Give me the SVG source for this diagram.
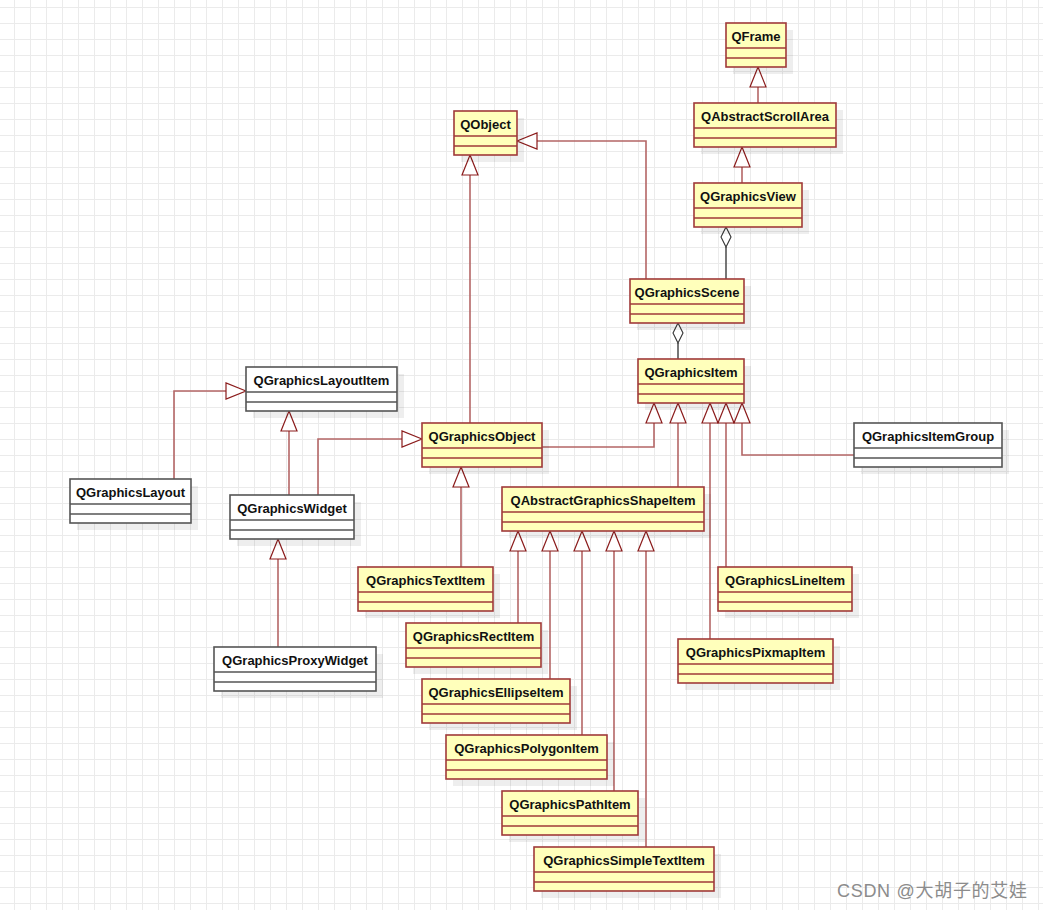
<svg xmlns="http://www.w3.org/2000/svg" width="1043" height="910" viewBox="0 0 1043 910">
<defs>
<pattern id="grid" width="16" height="16" patternUnits="userSpaceOnUse" x="14" y="7">
<path d="M0 0.5H16M0.5 0V16" stroke="#ebebeb" stroke-width="1" fill="none"/>
</pattern>
<style>
.cls rect.sh{fill:#000;fill-opacity:0.065;stroke:none}
.cls rect.bx{fill:#ffffbb;stroke:#a03a3a;stroke-width:1.6}
.cls path.sep{stroke:#a03a3a;stroke-width:1.6;fill:none}
.cls.w rect.bx{fill:#ffffff;stroke:#555555}
.cls.w path.sep{stroke:#555555}
.cls text{font-family:"Liberation Sans",Arial,sans-serif;font-size:13px;font-weight:bold;fill:#111;text-anchor:middle}
.gen{stroke:#b46666;stroke-width:1.6;fill:none}
.tri{fill:#fff;stroke:#8b1c1c;stroke-width:1.2}
.agg{stroke:#555;stroke-width:1.6;fill:none}
.dia{fill:#fff;stroke:#333;stroke-width:1.1}
</style>
</defs>
<rect width="1043" height="910" fill="#ffffff"/>
<rect width="1043" height="910" fill="url(#grid)"/>

<g id="connectors">
<!-- QAbstractScrollArea -> QFrame -->
<path class="gen" d="M758 103V87"/>
<polygon class="tri" points="758,67 766,87 750,87"/>
<!-- QGraphicsView -> QAbstractScrollArea -->
<path class="gen" d="M742 183V167"/>
<polygon class="tri" points="742,147 750,167 734,167"/>
<!-- View <>- Scene -->
<path class="agg" d="M726 247V279"/>
<polygon class="dia" points="726,227 731,237 726,247 721,237"/>
<!-- Scene -> QObject -->
<path class="gen" d="M646 279V141H537"/>
<polygon class="tri" points="517,141 537,133 537,149"/>
<!-- Scene <>- Item -->
<path class="agg" d="M678 343V359"/>
<polygon class="dia" points="678,323 683,333 678,343 673,333"/>
<!-- GraphicsObject -> QObject -->
<path class="gen" d="M470 423V175"/>
<polygon class="tri" points="470,155 478,175 462,175"/>
<!-- Layout -> LayoutItem -->
<path class="gen" d="M174 479V391H226"/>
<polygon class="tri" points="246,391 226,383 226,399"/>
<!-- Widget -> LayoutItem -->
<path class="gen" d="M289 495V431"/>
<polygon class="tri" points="289,411 297,431 281,431"/>
<!-- Widget -> GraphicsObject -->
<path class="gen" d="M318 495V439H402"/>
<polygon class="tri" points="422,439 402,431 402,447"/>
<!-- ProxyWidget -> Widget -->
<path class="gen" d="M278 647V559"/>
<polygon class="tri" points="278,539 286,559 270,559"/>
<!-- TextItem -> GraphicsObject -->
<path class="gen" d="M461 567V487"/>
<polygon class="tri" points="461,467 469,487 453,487"/>
<!-- GraphicsObject -> Item -->
<path class="gen" d="M542 447H654V423"/>
<polygon class="tri" points="654,403 662,423 646,423"/>
<!-- ShapeItem -> Item -->
<path class="gen" d="M678 487V423"/>
<polygon class="tri" points="678,403 686,423 670,423"/>
<!-- PixmapItem -> Item -->
<path class="gen" d="M710 639V423"/>
<polygon class="tri" points="710,403 718,423 702,423"/>
<!-- LineItem -> Item -->
<path class="gen" d="M726 567V423"/>
<polygon class="tri" points="726,403 734,423 718,423"/>
<!-- ItemGroup -> Item -->
<path class="gen" d="M854 455H742V423"/>
<polygon class="tri" points="742,403 750,423 734,423"/>
<!-- Shape subclasses -->
<path class="gen" d="M518 623V551"/>
<polygon class="tri" points="518,531 526,551 510,551"/>
<path class="gen" d="M550 679V551"/>
<polygon class="tri" points="550,531 558,551 542,551"/>
<path class="gen" d="M582 735V551"/>
<polygon class="tri" points="582,531 590,551 574,551"/>
<path class="gen" d="M614 791V551"/>
<polygon class="tri" points="614,531 622,551 606,551"/>
<path class="gen" d="M646 847V551"/>
<polygon class="tri" points="646,531 654,551 638,551"/>
</g>

<g id="QFrame" class="cls"><rect class="sh" x="733" y="30" width="60" height="44"/><rect class="bx" x="726" y="23" width="60" height="44"/><path class="sep" d="M726 48H786M726 58H786"/><text x="756" y="41">QFrame</text></g>
<g id="QAbstractScrollArea" class="cls"><rect class="sh" x="701" y="110" width="142" height="44"/><rect class="bx" x="694" y="103" width="142" height="44"/><path class="sep" d="M694 128H836M694 138H836"/><text x="765" y="121">QAbstractScrollArea</text></g>
<g id="QGraphicsView" class="cls"><rect class="sh" x="701" y="190" width="108" height="44"/><rect class="bx" x="694" y="183" width="108" height="44"/><path class="sep" d="M694 208H802M694 218H802"/><text x="748" y="201">QGraphicsView</text></g>
<g id="QObject" class="cls"><rect class="sh" x="461" y="118" width="63" height="44"/><rect class="bx" x="454" y="111" width="63" height="44"/><path class="sep" d="M454 136H517M454 146H517"/><text x="485.5" y="129">QObject</text></g>
<g id="QGraphicsScene" class="cls"><rect class="sh" x="637" y="286" width="114" height="44"/><rect class="bx" x="630" y="279" width="114" height="44"/><path class="sep" d="M630 304H744M630 314H744"/><text x="687" y="297">QGraphicsScene</text></g>
<g id="QGraphicsItem" class="cls"><rect class="sh" x="645" y="366" width="106" height="44"/><rect class="bx" x="638" y="359" width="106" height="44"/><path class="sep" d="M638 384H744M638 394H744"/><text x="691" y="377">QGraphicsItem</text></g>
<g id="QGraphicsLayoutItem" class="cls w"><rect class="sh" x="253" y="374" width="151" height="44"/><rect class="bx" x="246" y="367" width="151" height="44"/><path class="sep" d="M246 392H397M246 402H397"/><text x="321.5" y="385">QGraphicsLayoutItem</text></g>
<g id="QGraphicsLayout" class="cls w"><rect class="sh" x="77" y="486" width="121" height="44"/><rect class="bx" x="70" y="479" width="121" height="44"/><path class="sep" d="M70 504H191M70 514H191"/><text x="130.5" y="497">QGraphicsLayout</text></g>
<g id="QGraphicsWidget" class="cls w"><rect class="sh" x="237" y="502" width="124" height="44"/><rect class="bx" x="230" y="495" width="124" height="44"/><path class="sep" d="M230 520H354M230 530H354"/><text x="292" y="513">QGraphicsWidget</text></g>
<g id="QGraphicsObject" class="cls"><rect class="sh" x="429" y="430" width="120" height="44"/><rect class="bx" x="422" y="423" width="120" height="44"/><path class="sep" d="M422 448H542M422 458H542"/><text x="482" y="441">QGraphicsObject</text></g>
<g id="QGraphicsItemGroup" class="cls w"><rect class="sh" x="861" y="430" width="148" height="44"/><rect class="bx" x="854" y="423" width="148" height="44"/><path class="sep" d="M854 448H1002M854 458H1002"/><text x="928" y="441">QGraphicsItemGroup</text></g>
<g id="QAbstractGraphicsShapeItem" class="cls"><rect class="sh" x="509" y="494" width="202" height="44"/><rect class="bx" x="502" y="487" width="202" height="44"/><path class="sep" d="M502 512H704M502 522H704"/><text x="603" y="505">QAbstractGraphicsShapeItem</text></g>
<g id="QGraphicsTextItem" class="cls"><rect class="sh" x="365" y="574" width="135" height="44"/><rect class="bx" x="358" y="567" width="135" height="44"/><path class="sep" d="M358 592H493M358 602H493"/><text x="425.5" y="585">QGraphicsTextItem</text></g>
<g id="QGraphicsLineItem" class="cls"><rect class="sh" x="725" y="574" width="134" height="44"/><rect class="bx" x="718" y="567" width="134" height="44"/><path class="sep" d="M718 592H852M718 602H852"/><text x="785" y="585">QGraphicsLineItem</text></g>
<g id="QGraphicsRectItem" class="cls"><rect class="sh" x="413" y="630" width="135" height="44"/><rect class="bx" x="406" y="623" width="135" height="44"/><path class="sep" d="M406 648H541M406 658H541"/><text x="473.5" y="641">QGraphicsRectItem</text></g>
<g id="QGraphicsPixmapItem" class="cls"><rect class="sh" x="685" y="646" width="155" height="44"/><rect class="bx" x="678" y="639" width="155" height="44"/><path class="sep" d="M678 664H833M678 674H833"/><text x="755.5" y="657">QGraphicsPixmapItem</text></g>
<g id="QGraphicsProxyWidget" class="cls w"><rect class="sh" x="221" y="654" width="162" height="44"/><rect class="bx" x="214" y="647" width="162" height="44"/><path class="sep" d="M214 672H376M214 682H376"/><text x="295" y="665">QGraphicsProxyWidget</text></g>
<g id="QGraphicsEllipseItem" class="cls"><rect class="sh" x="429" y="686" width="148" height="44"/><rect class="bx" x="422" y="679" width="148" height="44"/><path class="sep" d="M422 704H570M422 714H570"/><text x="496" y="697">QGraphicsEllipseItem</text></g>
<g id="QGraphicsPolygonItem" class="cls"><rect class="sh" x="453" y="742" width="161" height="44"/><rect class="bx" x="446" y="735" width="161" height="44"/><path class="sep" d="M446 760H607M446 770H607"/><text x="526.5" y="753">QGraphicsPolygonItem</text></g>
<g id="QGraphicsPathItem" class="cls"><rect class="sh" x="509" y="798" width="136" height="44"/><rect class="bx" x="502" y="791" width="136" height="44"/><path class="sep" d="M502 816H638M502 826H638"/><text x="570" y="809">QGraphicsPathItem</text></g>
<g id="QGraphicsSimpleTextItem" class="cls"><rect class="sh" x="541" y="854" width="180" height="44"/><rect class="bx" x="534" y="847" width="180" height="44"/><path class="sep" d="M534 872H714M534 882H714"/><text x="624" y="865">QGraphicsSimpleTextItem</text></g>

<text x="837" y="897" font-family="'Liberation Sans','Noto Sans CJK SC',sans-serif" font-size="18" fill="#8c8c8c" textLength="190" lengthAdjust="spacing">CSDN @大胡子的艾娃</text>
</svg>
